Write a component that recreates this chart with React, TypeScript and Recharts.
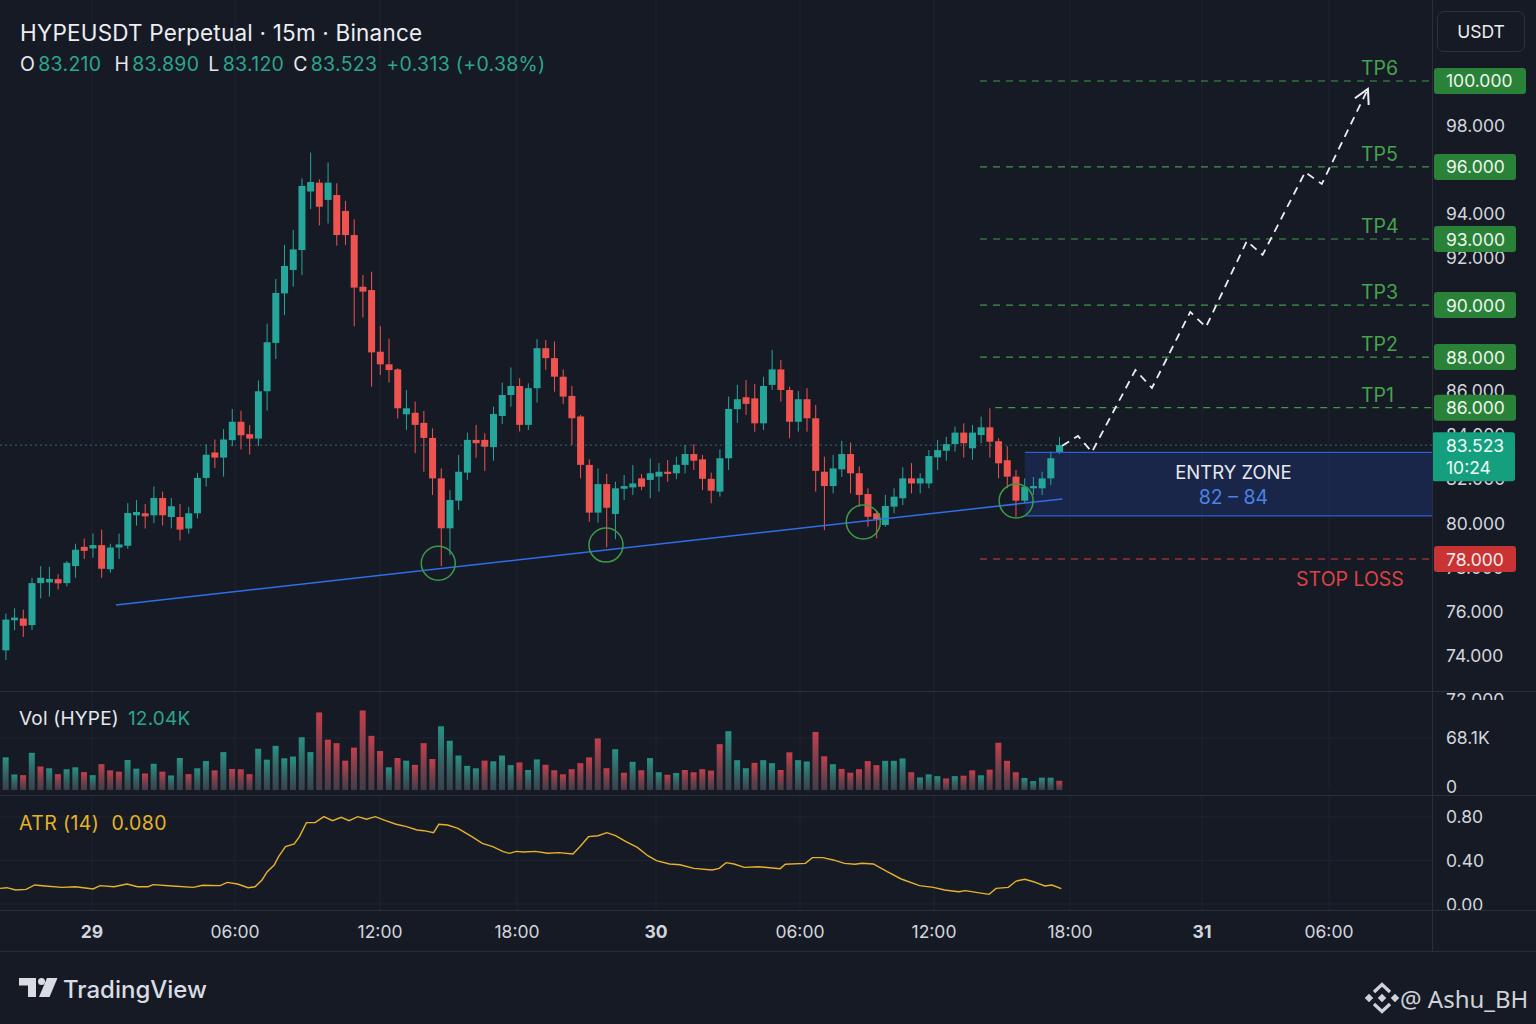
import React from "react";
import {
  ComposedChart,
  Bar,
  Line,
  XAxis,
  YAxis,
  CartesianGrid,
  ReferenceLine,
  ReferenceArea,
  ReferenceDot,
  Cell,
} from "recharts";

// 15m candles, HYPEUSDT
const OPEN = [
  74.24, 75.6, 75.68, 75.38, 77.28, 77.31, 77.46, 77.28, 78.05, 78.92,
  78.85, 79.0, 77.91, 78.89, 78.97, 80.35, 80.44, 80.35, 81.13, 80.27,
  80.27, 79.75, 80.44, 82.04, 83.19, 82.96, 83.75, 84.58, 84.02, 83.82,
  85.96, 88.15, 90.39, 91.45, 92.35, 95.0, 95.4, 94.62, 94.84, 94.12,
  93.03, 90.69, 90.54, 87.75, 87.18, 86.95, 84.92, 84.99, 84.53, 83.85,
  82.02, 79.76, 81.01, 82.28, 83.76, 83.76, 83.43, 84.84, 85.79, 86.2,
  84.44, 86.1, 87.91, 87.46, 86.62, 85.75, 84.82, 82.63, 80.47, 81.76,
  80.41, 81.55, 81.61, 82.02, 81.95, 82.1, 82.32, 82.25, 82.63, 83.12,
  82.88, 82.0, 81.42, 82.93, 85.15, 85.69, 85.64, 84.51, 86.25, 86.95,
  86.02, 84.58, 85.6, 84.74, 82.32, 81.67, 82.43, 83.12, 82.25, 81.31,
  80.44, 79.91, 80.74, 81.12, 82.02, 81.79, 81.79, 82.97, 83.27, 83.57,
  84.09, 83.38, 83.98, 84.33, 83.7, 82.84, 82.1, 81.01, 81.57, 81.57,
  82.02, 83.21,
];
const HIGH = [
  75.9, 76.14, 76.08, 77.52, 78.05, 78.01, 77.68, 78.28, 79.06, 79.3,
  79.52, 79.7, 79.06, 79.52, 80.9, 81.04, 80.86, 81.65, 81.42, 81.13,
  80.86, 80.73, 82.27, 83.56, 83.78, 84.25, 85.16, 85.08, 84.43, 86.45,
  89.02, 91.04, 92.58, 93.26, 95.59, 96.76, 95.55, 96.31, 95.37, 94.58,
  93.74, 91.22, 91.37, 88.91, 88.34, 87.0, 86.02, 85.5, 85.07, 84.28,
  82.47, 81.49, 83.08, 84.09, 84.44, 84.06, 85.26, 86.35, 87.04, 86.55,
  86.32, 88.32, 88.28, 88.21, 86.95, 86.2, 84.89, 82.88, 82.47, 82.22,
  81.87, 82.17, 82.62, 82.22, 82.92, 82.71, 82.85, 83.0, 83.53, 83.56,
  83.08, 82.28, 83.33, 85.72, 86.25, 86.47, 86.29, 86.62, 87.83, 87.38,
  86.17, 85.97, 86.1, 85.34, 83.0, 83.08, 83.72, 83.64, 82.56, 81.57,
  80.56, 81.27, 81.57, 82.52, 82.71, 82.25, 83.3, 83.76, 83.9, 84.36,
  84.51, 84.44, 84.81, 85.19, 83.84, 83.47, 82.4, 82.02, 82.08, 82.32,
  83.23, 83.89,
];
const LOW = [
  73.8, 75.15, 74.84, 75.16, 76.59, 76.67, 76.99, 77.13, 77.52, 78.37,
  78.43, 77.52, 77.75, 78.37, 78.83, 79.88, 79.75, 79.99, 79.89, 79.75,
  79.21, 79.52, 80.21, 81.65, 82.49, 82.1, 83.48, 83.33, 83.1, 83.48,
  85.08, 87.42, 89.41, 90.69, 91.22, 94.21, 93.47, 93.55, 92.55, 92.58,
  88.9, 89.3, 86.17, 86.7, 86.36, 84.73, 84.21, 83.16, 82.32, 81.27,
  78.05, 78.55, 80.59, 81.95, 82.95, 82.36, 82.82, 84.48, 85.26, 84.14,
  84.21, 85.45, 86.93, 85.94, 85.38, 83.53, 82.02, 80.06, 80.01, 78.9,
  79.26, 81.04, 81.27, 81.49, 81.12, 81.42, 81.87, 81.98, 82.25, 82.4,
  81.49, 80.89, 81.19, 82.4, 84.53, 84.89, 84.13, 84.21, 86.02, 85.49,
  83.83, 84.13, 84.13, 81.42, 79.68, 81.34, 82.08, 81.34, 80.74, 79.83,
  79.31, 79.83, 80.44, 80.81, 81.34, 81.34, 81.57, 82.4, 82.82, 83.23,
  82.96, 82.86, 83.61, 82.96, 82.02, 81.57, 80.28, 80.89, 81.27, 81.27,
  81.72, 83.12,
];
const CLOSE = [
  75.63, 75.72, 75.35, 77.28, 77.52, 77.47, 77.27, 78.2, 78.79, 78.74,
  79.0, 77.93, 78.89, 79.03, 80.45, 80.5, 80.3, 81.13, 80.35, 80.76,
  79.7, 80.44, 82.04, 83.09, 82.96, 83.78, 84.58, 83.97, 83.82, 85.96,
  88.18, 90.41, 91.63, 92.38, 95.25, 95.43, 94.31, 95.4, 93.03, 93.03,
  90.65, 90.47, 87.72, 87.18, 86.92, 85.19, 85.19, 84.44, 83.85, 82.02,
  79.76, 81.04, 82.32, 83.76, 83.61, 83.45, 84.93, 85.79, 86.2, 84.44,
  86.1, 87.91, 87.46, 86.62, 85.72, 84.74, 82.63, 80.47, 81.76, 80.69,
  81.57, 81.67, 81.79, 81.64, 82.25, 82.32, 82.22, 82.63, 83.12, 82.82,
  82.0, 81.46, 82.93, 85.16, 85.6, 85.39, 84.51, 86.2, 86.95, 86.02,
  84.58, 85.6, 84.74, 82.36, 81.67, 82.47, 83.12, 82.25, 81.27, 80.28,
  80.17, 80.77, 81.19, 82.02, 81.79, 82.02, 83.03, 83.3, 83.57, 84.09,
  83.61, 84.09, 84.33, 83.68, 82.7, 82.1, 81.01, 81.64, 81.67, 82.02,
  82.93, 83.523,
];
// volume in thousands HYPE, and the colour each bar is drawn in (u = up, d = down)
const VOLUME_K = [
  42.8, 20.3, 19.4, 48.7, 30.7, 28.4, 20.7, 27.1, 29.7, 23.4,
  19.4, 33.8, 25.7, 24.0, 39.3, 27.9, 21.6, 34.3, 24.0, 19.0,
  41.9, 20.7, 28.4, 37.9, 25.7, 49.6, 27.5, 27.1, 20.7, 54.1,
  39.7, 57.8, 41.5, 43.8, 69.0, 49.6, 101.5, 65.9, 61.3, 38.4,
  55.5, 104.1, 70.9, 51.0, 29.7, 41.9, 38.4, 32.9, 61.3, 40.6,
  83.4, 64.5, 45.1, 31.6, 28.4, 38.4, 37.5, 45.1, 32.5, 36.0,
  26.2, 40.0, 33.0, 25.8, 20.5, 27.2, 35.1, 42.7, 67.5, 28.5,
  53.4, 22.6, 36.9, 25.8, 41.8, 23.2, 20.0, 22.2, 26.2, 23.2,
  27.2, 25.4, 60.0, 77.0, 39.0, 28.5, 35.6, 39.0, 35.1, 26.2,
  49.3, 39.0, 37.3, 76.0, 44.1, 33.7, 27.6, 22.6, 27.2, 37.8,
  32.5, 38.2, 38.2, 41.3, 23.2, 16.4, 20.4, 18.1, 15.1, 18.1,
  18.7, 25.7, 19.2, 26.6, 61.8, 38.2, 23.2, 15.6, 11.6, 16.1,
  16.1, 12.04,
];
const VOLUME_SIDE =
  "uudududuud" + "uddduududu" + "uduududddu" + "uuuuuudddd" + "ddddududdd" +
  "uuuuuduuud" + "uudddddddd" + "ududuududd" + "ddduuuduud" + "duuddudddd" +
  "duuuduuudu" + "ddudddduuu" + "ud";

// ATR(14) line, sampled where it bends: bar position and value
const ATR_AT = [
  -0.68, 0.1, 1.1, 2.3, 3.3, 4.5, 6.4, 8.0, 10.0, 10.8, 12.4, 13.9, 15.1, 16.3,
  16.9, 19.1, 21.5, 22.6, 24.6, 25.4, 26.6, 27.8, 28.6, 29.4, 30.0, 30.8, 31.3,
  32.1, 33.1, 33.7, 34.5, 35.5, 36.5, 37.5, 38.5, 39.4, 40.4, 41.4, 42.4, 43.6,
  44.8, 46.0, 47.2, 48.0, 49.1, 49.7, 50.7, 51.9, 53.5, 54.7, 55.9, 57.1, 57.8,
  58.6, 59.4, 60.8, 62.2, 63.5, 65.1, 65.9, 66.9, 68.0, 69.0, 70.0, 71.2, 72.5,
  73.7, 74.7, 76.2, 77.4, 79.0, 81.1, 81.9, 82.7, 83.6, 84.8, 86.4, 88.9, 89.5,
  91.8, 92.6, 93.8, 95.0, 96.3, 97.5, 98.3, 99.6, 101.2, 102.8, 104.9, 106.5,
  107.8, 109.4, 110.2, 111.4, 112.9, 113.7, 115.1, 116.0, 117.0, 118.0, 119.3,
  120.1, 121.2,
];
const ATR_VALUE = [
  0.144, 0.15, 0.129, 0.135, 0.175, 0.166, 0.153, 0.159, 0.138, 0.169, 0.159,
  0.184, 0.159, 0.159, 0.178, 0.166, 0.153, 0.172, 0.169, 0.199, 0.184, 0.15,
  0.159, 0.221, 0.297, 0.359, 0.435, 0.527, 0.552, 0.619, 0.748, 0.748, 0.803,
  0.766, 0.797, 0.766, 0.803, 0.779, 0.803, 0.766, 0.733, 0.711, 0.68, 0.674,
  0.656, 0.733, 0.726, 0.696, 0.619, 0.558, 0.527, 0.481, 0.466, 0.484, 0.478,
  0.484, 0.466, 0.472, 0.46, 0.527, 0.619, 0.628, 0.656, 0.628, 0.573, 0.521,
  0.444, 0.398, 0.368, 0.361, 0.328, 0.313, 0.328, 0.38, 0.368, 0.337, 0.343,
  0.325, 0.365, 0.374, 0.426, 0.426, 0.405, 0.374, 0.365, 0.374, 0.368, 0.297,
  0.23, 0.169, 0.153, 0.129, 0.113, 0.123, 0.107, 0.089, 0.144, 0.153, 0.211,
  0.227, 0.205, 0.166, 0.175, 0.141,
];
const ATR_SHOWN = 0.08;

// time axis: bar position of each label
const TIME_TICK_AT = [9.88, 26.3, 42.95, 58.68, 74.64, 91.18, 106.57, 122.19, 137.35, 151.93];
const TIME_TICK_LABEL = ["29", "06:00", "12:00", "18:00", "30", "06:00", "12:00", "18:00", "31", "06:00"];
const DAY_LABELS = ["29", "30", "31"];

// price scale labels that show (the rest sit under the level boxes)
const PRICE_TICKS = [72, 74, 76, 78, 80, 82, 84, 86, 92, 94, 98];
const PRICE_GRID = [74, 76, 78, 80, 82, 84, 86, 88, 90, 92, 94, 96, 98, 100, 102];
const VOL_TICKS = [0, 68.1];
const ATR_TICKS = [0, 0.4, 0.8];

// trade plan drawings: label value, and the level where the line sits on the chart
const TP_NAMES = ["TP1", "TP2", "TP3", "TP4", "TP5", "TP6"];
const TP_VALUES = [86, 88, 90, 93, 96, 100];
const TP_DRAWN_AT = [85.22, 87.51, 89.86, 92.85, 96.11, 100.0];
const TP_FROM = [113.6, 111.85, 111.85, 111.85, 111.85, 111.85];
const STOP_VALUE = 78;
const STOP_DRAWN_AT = 78.37;
const STOP_FROM = 111.85;
const ENTRY_TEXT = [82, 84];
const ENTRY_DRAWN = [80.32, 83.2];
const ENTRY_FROM = 117.0;
const TREND_AT = [12.63, 121.3];
const TREND_PRICE = [76.29, 81.09];
const SWING_AT = [49.64, 68.9, 98.45, 116.0];
const SWING_PRICE = [78.18, 79.0, 80.05, 81.0];
const PATH_AT = [121.3, 123.1, 124.7, 129.7, 131.6, 136.0, 137.8, 142.5, 144.3, 149.2, 151.1, 156.4];
const PATH_PRICE = [83.5, 83.94, 83.21, 86.92, 86.11, 89.55, 88.87, 92.76, 92.13, 95.88, 95.34, 99.64];
const CANDLE_TIMER = "10:24";

const X_DOMAIN: [number, number] = [-0.69, 163.76];
const PRICE_DOMAIN: [number, number] = [72.353, 103.665];
const VOL_DOMAIN: [number, number] = [0, 128.3];
const ATR_DOMAIN: [number, number] = [-0.055, 1.002];

const BG = "#161a25";
const GRID = "#1f2430";
const SEP = "#2a2e3a";
const UP = "#26a69a";
const DOWN = "#ef5350";
const AXIS_TEXT = "#d3d6de";
const TEAL_TEXT = "#2ca58b";
const TP_GREEN = "#46a24c";
const TP_BOX = "#2a8239";
const SL_RED = "#de4343";
const SL_BOX = "#c93333";
const ATR_COLOR = "#e5b22a";
const FONT = "Inter, 'Noto Sans', sans-serif";
const W = 1536;
const AXIS_W = 104;
const AXIS_TEXT_X = 1446;
const AXIS_FONT = 17.5;
const BODY_W = 7;

const candles = OPEN.map((open, i) => ({
  i,
  open,
  high: HIGH[i],
  low: LOW[i],
  close: CLOSE[i],
  vol: VOLUME_K[i],
  side: VOLUME_SIDE[i],
}));
const atrData = ATR_AT.map((i, k) => ({ i, atr: ATR_VALUE[k] }));
const pathData = PATH_AT.map((i, k) => ({ i, p: PATH_PRICE[k] }));

function Candle(props: any) {
  const { x, y, width, height, payload } = props;
  if (x == null || y == null) return <g />;
  const { open, close, high, low } = payload;
  const top = Math.min(y, y + height);
  const h = Math.abs(height);
  const k = h / (high - low || 1);
  const cx = x + width / 2;
  const bTop = top + (high - Math.max(open, close)) * k;
  const bBot = top + (high - Math.min(open, close)) * k;
  const color = close >= open ? UP : DOWN;
  return (
    <g>
      <line x1={cx} x2={cx} y1={top} y2={top + h} stroke={color} strokeWidth={1} />
      <rect x={cx - BODY_W / 2} y={bTop} width={BODY_W} height={Math.max(1, bBot - bTop)} fill={color} />
    </g>
  );
}

// price scale text, drawn as a label so the level boxes can sit on top of it
function PriceScaleLabel(props: any) {
  const { viewBox, value } = props;
  if (!viewBox) return null;
  return (
    <text x={AXIS_TEXT_X} y={viewBox.y} dominantBaseline="central" fill={AXIS_TEXT} fontSize={AXIS_FONT} fontFamily={FONT}>
      {value.toFixed(3)}
    </text>
  );
}

function VolTick(props: any) {
  const { y, payload } = props;
  const v = payload.value;
  return (
    <text x={AXIS_TEXT_X} y={v === 0 ? y - 4 : y} dominantBaseline="central" fill={AXIS_TEXT} fontSize={AXIS_FONT} fontFamily={FONT}>
      {v === 0 ? "0" : `${v}K`}
    </text>
  );
}

function AtrTick(props: any) {
  const { y, payload } = props;
  return (
    <text x={AXIS_TEXT_X} y={y} dominantBaseline="central" fill={AXIS_TEXT} fontSize={AXIS_FONT} fontFamily={FONT}>
      {payload.value.toFixed(2)}
    </text>
  );
}

function TimeTick(props: any) {
  const { x, payload } = props;
  const label = TIME_TICK_LABEL[TIME_TICK_AT.indexOf(payload.value)] ?? "";
  const bold = DAY_LABELS.includes(label);
  return (
    <text x={x} y={136} textAnchor="middle" dominantBaseline="central" fill={AXIS_TEXT} fontSize={17.5}
      fontWeight={bold ? 700 : 400} fontFamily={FONT}>
      {label}
    </text>
  );
}

function TargetLabel(props: any) {
  const { viewBox, name, value } = props;
  if (!viewBox) return null;
  const right = viewBox.x + viewBox.width;
  const y = viewBox.y;
  const txt = value.toFixed(3);
  return (
    <g fontFamily={FONT}>
      <text x={right - 71} y={y - 13} dominantBaseline="central" fill={TP_GREEN} fontSize={19.5}>{name}</text>
      <rect x={right + 2} y={y - 13} width={txt.length * 10 + 22} height={26} rx={3} fill={TP_BOX} />
      <text x={AXIS_TEXT_X} y={y} dominantBaseline="central" fill="#eef6ee" fontSize={AXIS_FONT}>{txt}</text>
    </g>
  );
}

function StopLabel(props: any) {
  const { viewBox, value } = props;
  if (!viewBox) return null;
  const right = viewBox.x + viewBox.width;
  const y = viewBox.y;
  const txt = value.toFixed(3);
  return (
    <g fontFamily={FONT}>
      <text x={right - 82} y={y + 20} textAnchor="middle" dominantBaseline="central" fill={SL_RED} fontSize={19.5}>STOP LOSS</text>
      <rect x={right + 2} y={y - 13} width={txt.length * 10 + 22} height={26} rx={3} fill={SL_BOX} />
      <text x={AXIS_TEXT_X} y={y} dominantBaseline="central" fill="#fbeeee" fontSize={AXIS_FONT}>{txt}</text>
    </g>
  );
}

function LastPriceLabel(props: any) {
  const { viewBox, value } = props;
  if (!viewBox) return null;
  const right = viewBox.x + viewBox.width;
  const y = viewBox.y;
  return (
    <g fontFamily={FONT}>
      <rect x={right} y={y - 13} width={83} height={49} rx={3} fill="#14a07f" />
      <text x={AXIS_TEXT_X} y={y} dominantBaseline="central" fill="#effaf6" fontSize={AXIS_FONT}>{value.toFixed(3)}</text>
      <text x={AXIS_TEXT_X} y={y + 22} dominantBaseline="central" fill="#effaf6" fontSize={AXIS_FONT}>{CANDLE_TIMER}</text>
    </g>
  );
}

function EntryLabel(props: any) {
  const { viewBox } = props;
  if (!viewBox) return null;
  const cx = viewBox.x + viewBox.width / 2 + 5;
  return (
    <g fontFamily={FONT} textAnchor="middle">
      <text x={cx} y={viewBox.y + 20} dominantBaseline="central" fill="#e8eaef" fontSize={18.5}>ENTRY ZONE</text>
      <text x={cx} y={viewBox.y + 45} dominantBaseline="central" fill="#4a82e6" fontSize={19.5}>
        {`${ENTRY_TEXT[0]} – ${ENTRY_TEXT[1]}`}
      </text>
    </g>
  );
}

let prevPathPoint = { x: 0, y: 0 };
function PathDot(props: any) {
  const { cx, cy, index } = props;
  if (index < PATH_AT.length - 1) {
    prevPathPoint = { x: cx, y: cy };
    return <g key={`pd-${index}`} />;
  }
  const ang = Math.atan2(cy - prevPathPoint.y, cx - prevPathPoint.x);
  const len = 16;
  const a1 = ang + Math.PI - 0.5;
  const a2 = ang + Math.PI + 0.5;
  return (
    <path
      key={`pd-${index}`}
      d={`M${cx + len * Math.cos(a1)},${cy + len * Math.sin(a1)} L${cx},${cy} L${cx + len * Math.cos(a2)},${cy + len * Math.sin(a2)}`}
      stroke="#eceef2"
      strokeWidth={2}
      fill="none"
    />
  );
}

function Txt({ x, cy, size, color, children, weight, h, family, spacing }: any) {
  const lh = h ?? Math.round(size * 1.3);
  return (
    <div style={{ position: "absolute", left: x, top: cy - lh / 2, height: lh, lineHeight: `${lh}px`,
      fontSize: size, color, fontWeight: weight ?? 400, whiteSpace: "nowrap", fontFamily: family ?? FONT,
      letterSpacing: spacing ?? 0 }}>
      {children}
    </div>
  );
}

function hLine(top: number, left = 0, width = W) {
  return <div style={{ position: "absolute", left, top, width, height: 1, background: SEP }} />;
}

export default function App() {
  const last = candles[candles.length - 1];
  const change = last.close - last.open;
  const pct = (change / last.open) * 100;
  const lastIdx = candles.length - 1;
  const val = { color: TEAL_TEXT, marginLeft: 3, marginRight: 9 };

  return (
    <div style={{ position: "absolute", left: 0, top: 0, width: W, height: 1024, background: BG, overflow: "hidden", fontFamily: FONT }}>
      {/* price pane */}
      <div style={{ position: "absolute", left: 0, top: 0 }}>
        <ComposedChart width={W} height={700} data={candles} margin={{ top: 0, right: 0, bottom: 8, left: 0 }}>
          <XAxis dataKey="i" type="number" domain={X_DOMAIN} allowDataOverflow hide ticks={TIME_TICK_AT} />
          <YAxis orientation="right" width={AXIS_W} domain={PRICE_DOMAIN} allowDataOverflow
            tick={false} axisLine={false} tickLine={false} />
          <CartesianGrid stroke={GRID} horizontalValues={PRICE_GRID} verticalValues={TIME_TICK_AT} />
          {PRICE_TICKS.map((v) => (
            <ReferenceLine key={`pt-${v}`} y={v} stroke="none" ifOverflow="visible" label={<PriceScaleLabel value={v} />} />
          ))}
          <ReferenceArea x1={ENTRY_FROM} x2={X_DOMAIN[1]} y1={ENTRY_DRAWN[0]} y2={ENTRY_DRAWN[1]}
            fill="#2962ff" fillOpacity={0.17} stroke="none" label={<EntryLabel />} />
          <ReferenceLine segment={[{ x: ENTRY_FROM, y: ENTRY_DRAWN[1] }, { x: X_DOMAIN[1], y: ENTRY_DRAWN[1] }]}
            stroke="#2d5fcf" strokeWidth={1.2} />
          <ReferenceLine segment={[{ x: ENTRY_FROM, y: ENTRY_DRAWN[0] }, { x: X_DOMAIN[1], y: ENTRY_DRAWN[0] }]}
            stroke="#2d5fcf" strokeWidth={1.2} />
          <ReferenceLine y={last.close} stroke="#3a8f86" strokeOpacity={0.7} strokeDasharray="2 3" />
          <Bar dataKey={(d: any) => [d.low, d.high]} barSize={6} isAnimationActive={false}
            shape={(p: any) => <Candle {...p} />} />
          <ReferenceLine segment={[{ x: TREND_AT[0], y: TREND_PRICE[0] }, { x: TREND_AT[1], y: TREND_PRICE[1] }]}
            stroke="#2f6ee6" strokeWidth={1.5} />
          {SWING_AT.map((x, k) => (
            <ReferenceDot key={`sw-${k}`} x={x} y={SWING_PRICE[k]} r={17} fill="none" stroke="#3b9b47" strokeWidth={1.5} />
          ))}
          {TP_NAMES.map((name, k) => (
            <ReferenceLine key={name}
              segment={[{ x: TP_FROM[k], y: TP_DRAWN_AT[k] }, { x: X_DOMAIN[1], y: TP_DRAWN_AT[k] }]}
              stroke="#3f9a48" strokeWidth={1.2} strokeDasharray="7 6"
              label={<TargetLabel name={name} value={TP_VALUES[k]} />} />
          ))}
          <ReferenceLine segment={[{ x: STOP_FROM, y: STOP_DRAWN_AT }, { x: X_DOMAIN[1], y: STOP_DRAWN_AT }]}
            stroke="#d43f3f" strokeWidth={1.2} strokeDasharray="7 6" label={<StopLabel value={STOP_VALUE} />} />
          <Line data={pathData} dataKey="p" stroke="#eceef2" strokeWidth={1.8} strokeDasharray="8 6"
            dot={PathDot} activeDot={false} isAnimationActive={false} type="linear" />
          <ReferenceLine y={last.close} stroke="none" label={<LastPriceLabel value={last.close} />} />
        </ComposedChart>
      </div>

      {/* volume pane */}
      <div style={{ position: "absolute", left: 0, top: 692 }}>
        <ComposedChart width={W} height={103} data={candles} margin={{ top: 0, right: 0, bottom: 5, left: 0 }}>
          <defs>
            <linearGradient id="volUp" x1="0" y1="0" x2="0" y2="1">
              <stop offset="0%" stopColor="#28a08f" stopOpacity={0.9} />
              <stop offset="100%" stopColor="#55626b" stopOpacity={0.55} />
            </linearGradient>
            <linearGradient id="volDown" x1="0" y1="0" x2="0" y2="1">
              <stop offset="0%" stopColor="#d9434f" stopOpacity={0.9} />
              <stop offset="100%" stopColor="#6a5862" stopOpacity={0.55} />
            </linearGradient>
          </defs>
          <XAxis dataKey="i" type="number" domain={X_DOMAIN} allowDataOverflow hide ticks={TIME_TICK_AT} />
          <YAxis orientation="right" width={AXIS_W} domain={VOL_DOMAIN} allowDataOverflow ticks={VOL_TICKS}
            tick={<VolTick />} axisLine={false} tickLine={false} interval={0} />
          <CartesianGrid stroke={GRID} horizontalValues={[68.1]} verticalValues={TIME_TICK_AT} />
          <Bar dataKey="vol" barSize={6} isAnimationActive={false}>
            {candles.map((c) => (
              <Cell key={`v-${c.i}`} fill={c.side === "u" ? "url(#volUp)" : "url(#volDown)"} />
            ))}
          </Bar>
        </ComposedChart>
      </div>

      {/* ATR pane + time axis */}
      <div style={{ position: "absolute", left: 0, top: 795 }}>
        <ComposedChart width={W} height={156} data={atrData} margin={{ top: 0, right: 0, bottom: 0, left: 0 }}>
          <XAxis dataKey="i" type="number" domain={X_DOMAIN} allowDataOverflow ticks={TIME_TICK_AT} interval={0}
            height={41} axisLine={false} tickLine={false} tick={<TimeTick />} />
          <YAxis orientation="right" width={AXIS_W} domain={ATR_DOMAIN} allowDataOverflow ticks={ATR_TICKS}
            tick={<AtrTick />} axisLine={false} tickLine={false} interval={0} />
          <CartesianGrid stroke={GRID} horizontalValues={ATR_TICKS} verticalValues={TIME_TICK_AT} />
          <Line dataKey="atr" stroke={ATR_COLOR} strokeWidth={1.4} dot={false} activeDot={false}
            isAnimationActive={false} type="linear" />
        </ComposedChart>
      </div>

      {/* pane separators */}
      {hLine(691)}
      {hLine(795)}
      {hLine(910)}
      {hLine(951)}
      <div style={{ position: "absolute", left: 1432, top: 0, width: 1, height: 951, background: SEP }} />

      {/* header */}
      <Txt x={20} cy={32} size={22.5} color="#eceef2" spacing={0.2}>HYPEUSDT Perpetual · 15m · Binance</Txt>
      <Txt x={20} cy={64} size={19.5} color="#e6e8ec" spacing={0.3}>
        O<span style={{ ...val, marginRight: 13 }}>{last.open.toFixed(3)}</span>
        H<span style={val}>{last.high.toFixed(3)}</span>
        L<span style={val}>{last.low.toFixed(3)}</span>
        C<span style={val}>{last.close.toFixed(3)}</span>
        <span style={{ color: TEAL_TEXT }}>{`+${change.toFixed(3)} (+${pct.toFixed(2)}%)`}</span>
      </Txt>

      {/* USDT currency button */}
      <div style={{ position: "absolute", left: 1437, top: 11, width: 88, height: 41, border: "1px solid #2c313d",
        borderRadius: 7, boxSizing: "border-box", color: "#eceef2", fontSize: 17.5, lineHeight: "39px", textAlign: "center" }}>
        USDT
      </div>

      {/* indicator legends */}
      <Txt x={19} cy={718} size={19} color="#e6e8ec" spacing={0.2}>
        Vol (HYPE)<span style={{ color: TEAL_TEXT, marginLeft: 9 }}>{`${VOLUME_K[lastIdx].toFixed(2)}K`}</span>
      </Txt>
      <Txt x={19} cy={823} size={19.5} color={ATR_COLOR} spacing={0.4}>
        ATR (14)<span style={{ marginLeft: 12 }}>{ATR_SHOWN.toFixed(3)}</span>
      </Txt>

      {/* footer */}
      <svg style={{ position: "absolute", left: 0, top: 960 }} width={70} height={50}>
        <g fill="#d9dce3" transform="translate(0,-960)">
          <path d="M19 978 H36 V997 H28 V985.5 H19 Z" />
          <circle cx={41.5} cy={981.5} r={3.5} />
          <path d="M47 978 H57.5 L49.5 997 H39 Z" />
        </g>
      </svg>
      <Txt x={63} cy={989} size={24} color="#d9dce3" weight={500}>TradingView</Txt>

      <svg style={{ position: "absolute", left: 1364, top: 982 }} width={36} height={34}>
        <g fill="#cfd2d8" stroke="#cfd2d8" transform="translate(-1364,-982)">
          <rect x={1366} y={995} width={6} height={6} transform="rotate(45 1369 998)" stroke="none" />
          <rect x={1392} y={995} width={6} height={6} transform="rotate(45 1395 998)" stroke="none" />
          <rect x={1379} y={995} width={6} height={6} transform="rotate(45 1382 998)" stroke="none" />
          <polyline points="1374,992 1382,984.5 1390,992" fill="none" strokeWidth={3.2} />
          <polyline points="1374,1004 1382,1011.5 1390,1004" fill="none" strokeWidth={3.2} />
        </g>
      </svg>
      <Txt x={1400} cy={998} size={24} color="#cfd2d8" family="'Noto Sans', sans-serif">@ Ashu_BH</Txt>
    </div>
  );
}
